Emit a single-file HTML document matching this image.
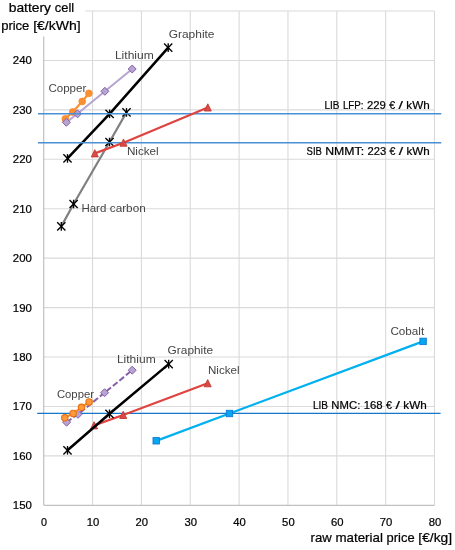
<!DOCTYPE html>
<html lang="en"><head><meta charset="utf-8"><title>Battery cell price vs raw material price</title>
<style>html,body{margin:0;padding:0;background:#fff;}svg{display:block;}text{font-family:"Liberation Sans",sans-serif;}</style></head><body>
<svg width="455" height="550" viewBox="0 0 455 550">
<rect x="0" y="0" width="455" height="550" fill="#ffffff"/>
<g stroke="#dadada" stroke-width="1.1" fill="none">
<line x1="92.55" y1="11.0" x2="92.55" y2="505.3"/>
<line x1="141.40" y1="11.0" x2="141.40" y2="505.3"/>
<line x1="190.25" y1="11.0" x2="190.25" y2="505.3"/>
<line x1="239.10" y1="11.0" x2="239.10" y2="505.3"/>
<line x1="287.95" y1="11.0" x2="287.95" y2="505.3"/>
<line x1="336.80" y1="11.0" x2="336.80" y2="505.3"/>
<line x1="385.65" y1="11.0" x2="385.65" y2="505.3"/>
<line x1="434.50" y1="11.0" x2="434.50" y2="505.3"/>
<line x1="43.7" y1="455.87" x2="434.5" y2="455.87"/>
<line x1="43.7" y1="406.44" x2="434.5" y2="406.44"/>
<line x1="43.7" y1="357.01" x2="434.5" y2="357.01"/>
<line x1="43.7" y1="307.58" x2="434.5" y2="307.58"/>
<line x1="43.7" y1="258.15" x2="434.5" y2="258.15"/>
<line x1="43.7" y1="208.72" x2="434.5" y2="208.72"/>
<line x1="43.7" y1="159.29" x2="434.5" y2="159.29"/>
<line x1="43.7" y1="109.86" x2="434.5" y2="109.86"/>
<line x1="43.7" y1="60.43" x2="434.5" y2="60.43"/>
<line x1="43.7" y1="11.00" x2="434.5" y2="11.00"/>
</g>
<g stroke="#c0c0c0" stroke-width="1.2" fill="none">
<line x1="43.7" y1="11.0" x2="43.7" y2="505.3"/>
<line x1="43.7" y1="505.3" x2="434.5" y2="505.3"/>
</g>
<rect x="0" y="0" width="85.4" height="36.5" fill="#ffffff"/>
<line x1="37.2" y1="413.4" x2="440.6" y2="413.4" stroke="#1676c7" stroke-width="1.15"/>
<polyline points="156.2,440.8 229.5,413.5 423.1,341.4" fill="none" stroke="#00b0f0" stroke-width="2.3" stroke-linejoin="round" stroke-linecap="butt"/>
<rect x="153.0" y="437.6" width="6.4" height="6.4" fill="#07a6ee" stroke="#0e7ad4" stroke-width="0.9"/>
<rect x="226.3" y="410.3" width="6.4" height="6.4" fill="#07a6ee" stroke="#0e7ad4" stroke-width="0.9"/>
<rect x="419.9" y="338.2" width="6.4" height="6.4" fill="#07a6ee" stroke="#0e7ad4" stroke-width="0.9"/>
<polyline points="94.1,425.4 123.2,415.0 207.7,383.3" fill="none" stroke="#e0433f" stroke-width="2.2" stroke-linejoin="round" stroke-linecap="butt"/>
<polygon points="94.1,421.7 97.6,428.9 90.6,428.9" fill="#dc4a48" stroke="#bf3a32" stroke-width="0.9" stroke-linejoin="round"/>
<polygon points="123.2,411.3 126.7,418.5 119.7,418.5" fill="#dc4a48" stroke="#bf3a32" stroke-width="0.9" stroke-linejoin="round"/>
<polygon points="207.7,379.6 211.2,386.8 204.2,386.8" fill="#dc4a48" stroke="#bf3a32" stroke-width="0.9" stroke-linejoin="round"/>
<polyline points="61.3,226.4 73.6,204.0 109.5,142.0 126.5,112.4" fill="none" stroke="#808080" stroke-width="2.2" stroke-linejoin="round" stroke-linecap="butt"/>
<g stroke="#000000" stroke-width="1.35" fill="none"><line x1="57.2" y1="222.3" x2="65.4" y2="230.5"/><line x1="57.2" y1="230.5" x2="65.4" y2="222.3"/><line x1="61.3" y1="222.1" x2="61.3" y2="230.7"/></g>
<g stroke="#000000" stroke-width="1.35" fill="none"><line x1="69.5" y1="199.9" x2="77.7" y2="208.1"/><line x1="69.5" y1="208.1" x2="77.7" y2="199.9"/><line x1="73.6" y1="199.7" x2="73.6" y2="208.3"/></g>
<g stroke="#000000" stroke-width="1.35" fill="none"><line x1="105.4" y1="137.9" x2="113.6" y2="146.1"/><line x1="105.4" y1="146.1" x2="113.6" y2="137.9"/><line x1="109.5" y1="137.7" x2="109.5" y2="146.3"/></g>
<g stroke="#000000" stroke-width="1.35" fill="none"><line x1="122.4" y1="108.3" x2="130.6" y2="116.5"/><line x1="122.4" y1="116.5" x2="130.6" y2="108.3"/><line x1="126.5" y1="108.1" x2="126.5" y2="116.7"/></g>
<polyline points="67.5,158.4 109.6,113.8 168.2,47.6" fill="none" stroke="#000000" stroke-width="2.5" stroke-linejoin="round" stroke-linecap="butt"/>
<g stroke="#000000" stroke-width="1.35" fill="none"><line x1="63.4" y1="154.3" x2="71.6" y2="162.5"/><line x1="63.4" y1="162.5" x2="71.6" y2="154.3"/><line x1="67.5" y1="154.1" x2="67.5" y2="162.7"/></g>
<g stroke="#000000" stroke-width="1.35" fill="none"><line x1="105.5" y1="109.7" x2="113.7" y2="117.9"/><line x1="105.5" y1="117.9" x2="113.7" y2="109.7"/><line x1="109.6" y1="109.5" x2="109.6" y2="118.1"/></g>
<g stroke="#000000" stroke-width="1.35" fill="none"><line x1="164.1" y1="43.5" x2="172.3" y2="51.7"/><line x1="164.1" y1="51.7" x2="172.3" y2="43.5"/><line x1="168.2" y1="43.3" x2="168.2" y2="51.9"/></g>
<polyline points="67.5,450.3 109.5,413.8 168.7,364.1" fill="none" stroke="#000000" stroke-width="2.5" stroke-linejoin="round" stroke-linecap="butt"/>
<g stroke="#000000" stroke-width="1.35" fill="none"><line x1="63.4" y1="446.2" x2="71.6" y2="454.4"/><line x1="63.4" y1="454.4" x2="71.6" y2="446.2"/><line x1="67.5" y1="446.0" x2="67.5" y2="454.6"/></g>
<g stroke="#000000" stroke-width="1.35" fill="none"><line x1="105.4" y1="409.7" x2="113.6" y2="417.9"/><line x1="105.4" y1="417.9" x2="113.6" y2="409.7"/><line x1="109.5" y1="409.5" x2="109.5" y2="418.1"/></g>
<g stroke="#000000" stroke-width="1.35" fill="none"><line x1="164.6" y1="360.0" x2="172.8" y2="368.2"/><line x1="164.6" y1="368.2" x2="172.8" y2="360.0"/><line x1="168.7" y1="359.8" x2="168.7" y2="368.4"/></g>
<polyline points="65.3,118.8 72.7,112.0 82.2,101.4 88.9,93.3" fill="none" stroke="#fb9032" stroke-width="2.2" stroke-linejoin="round" stroke-linecap="butt"/>
<circle cx="65.3" cy="118.8" r="3.4" fill="#fb9032" stroke="#f98a28" stroke-width="0.8"/>
<circle cx="72.7" cy="112.0" r="3.4" fill="#fb9032" stroke="#f98a28" stroke-width="0.8"/>
<circle cx="82.2" cy="101.4" r="3.4" fill="#fb9032" stroke="#f98a28" stroke-width="0.8"/>
<circle cx="88.9" cy="93.3" r="3.4" fill="#fb9032" stroke="#f98a28" stroke-width="0.8"/>
<polyline points="66.4,122.3 77.5,113.8 104.9,91.3 132.2,69.0" fill="none" stroke="#b7a4d1" stroke-width="2.0" stroke-linejoin="round" stroke-linecap="butt"/>
<polygon points="66.4,118.3 70.4,122.3 66.4,126.3 62.4,122.3" fill="#b7a4d1" stroke="#8560a8" stroke-width="1.0"/>
<polygon points="77.5,109.8 81.5,113.8 77.5,117.8 73.5,113.8" fill="#b7a4d1" stroke="#8560a8" stroke-width="1.0"/>
<polygon points="104.9,87.3 108.9,91.3 104.9,95.3 100.9,91.3" fill="#b7a4d1" stroke="#8560a8" stroke-width="1.0"/>
<polygon points="132.2,65.0 136.2,69.0 132.2,73.0 128.2,69.0" fill="#b7a4d1" stroke="#8560a8" stroke-width="1.0"/>
<line x1="38" y1="113.8" x2="441.3" y2="113.8" stroke="#4a90d4" stroke-width="1.6"/>
<line x1="38" y1="142.8" x2="441.3" y2="142.8" stroke="#4a90d4" stroke-width="1.6"/>
<polyline points="94.8,153.4 123.5,142.7 207.8,107.5" fill="none" stroke="#e0433f" stroke-width="2.2" stroke-linejoin="round" stroke-linecap="butt"/>
<polygon points="94.8,149.7 98.3,156.9 91.3,156.9" fill="#dc4a48" stroke="#bf3a32" stroke-width="0.9" stroke-linejoin="round"/>
<polygon points="123.5,139.0 127.0,146.2 120.0,146.2" fill="#dc4a48" stroke="#bf3a32" stroke-width="0.9" stroke-linejoin="round"/>
<polygon points="207.8,103.8 211.3,111.0 204.3,111.0" fill="#dc4a48" stroke="#bf3a32" stroke-width="0.9" stroke-linejoin="round"/>
<polyline points="66.6,422.2 78.0,414.3 104.6,392.7 132.2,370.2" fill="none" stroke="#8560a8" stroke-width="2.0" stroke-linejoin="round" stroke-linecap="butt" stroke-dasharray="6 2.4"/>
<polygon points="66.6,418.2 70.6,422.2 66.6,426.2 62.6,422.2" fill="#b7a4d1" stroke="#8560a8" stroke-width="1.0"/>
<polygon points="78.0,410.3 82.0,414.3 78.0,418.3 74.0,414.3" fill="#b7a4d1" stroke="#8560a8" stroke-width="1.0"/>
<polygon points="104.6,388.7 108.6,392.7 104.6,396.7 100.6,392.7" fill="#b7a4d1" stroke="#8560a8" stroke-width="1.0"/>
<polygon points="132.2,366.2 136.2,370.2 132.2,374.2 128.2,370.2" fill="#b7a4d1" stroke="#8560a8" stroke-width="1.0"/>
<polyline points="64.8,417.8 73.1,413.4 81.5,407.3 89.1,402.0" fill="none" stroke="#fb9032" stroke-width="2.2" stroke-linejoin="round" stroke-linecap="butt"/>
<circle cx="64.8" cy="417.8" r="3.2" fill="#ff9a3c" stroke="#e8700f" stroke-width="1.1"/>
<circle cx="73.1" cy="413.4" r="3.2" fill="#ff9a3c" stroke="#e8700f" stroke-width="1.1"/>
<circle cx="81.5" cy="407.3" r="3.2" fill="#ff9a3c" stroke="#e8700f" stroke-width="1.1"/>
<circle cx="89.1" cy="402.0" r="3.2" fill="#ff9a3c" stroke="#e8700f" stroke-width="1.1"/>
<text y="91.8" font-size="11.69" fill="#454545"><tspan x="48.41" textLength="37.91" lengthAdjust="spacingAndGlyphs">Copper</tspan></text>
<text y="59.0" font-size="11.58" fill="#454545"><tspan x="114.90" textLength="38.92" lengthAdjust="spacingAndGlyphs">Lithium</tspan></text>
<text y="38.4" font-size="11.67" fill="#454545"><tspan x="168.71" textLength="45.81" lengthAdjust="spacingAndGlyphs">Graphite</tspan></text>
<text y="154.5" font-size="11.75" fill="#454545"><tspan x="126.89" textLength="31.84" lengthAdjust="spacingAndGlyphs">Nickel</tspan></text>
<text y="211.8" font-size="11.60" fill="#454545"><tspan x="81.40" textLength="24.95" lengthAdjust="spacingAndGlyphs">Hard</tspan> <tspan x="109.78" textLength="35.94" lengthAdjust="spacingAndGlyphs">carbon</tspan></text>
<text y="397.6" font-size="11.44" fill="#454545"><tspan x="56.92" textLength="37.09" lengthAdjust="spacingAndGlyphs">Copper</tspan></text>
<text y="362.5" font-size="11.55" fill="#454545"><tspan x="116.90" textLength="38.81" lengthAdjust="spacingAndGlyphs">Lithium</tspan></text>
<text y="354.3" font-size="11.60" fill="#454545"><tspan x="167.61" textLength="45.50" lengthAdjust="spacingAndGlyphs">Graphite</tspan></text>
<text y="374.0" font-size="11.63" fill="#454545"><tspan x="208.00" textLength="31.52" lengthAdjust="spacingAndGlyphs">Nickel</tspan></text>
<text y="334.6" font-size="11.75" fill="#454545"><tspan x="390.41" textLength="33.81" lengthAdjust="spacingAndGlyphs">Cobalt</tspan></text>
<text y="108.5" font-size="11.47" fill="#000000" stroke="#000000" stroke-width="0.22"><tspan x="324.51" textLength="14.99" lengthAdjust="spacingAndGlyphs">LIB</tspan> <tspan x="342.89" textLength="20.70" lengthAdjust="spacingAndGlyphs">LFP:</tspan> <tspan x="366.98" textLength="18.87" lengthAdjust="spacingAndGlyphs">229</tspan> <tspan x="389.24" textLength="5.95" lengthAdjust="spacingAndGlyphs">€</tspan> <tspan x="398.59" textLength="4.41" lengthAdjust="spacingAndGlyphs">/</tspan> <tspan x="406.39" textLength="23.32" lengthAdjust="spacingAndGlyphs">kWh</tspan></text>
<text y="154.6" font-size="11.38" fill="#000000" stroke="#000000" stroke-width="0.22"><tspan x="306.55" textLength="15.37" lengthAdjust="spacingAndGlyphs">SIB</tspan> <tspan x="325.28" textLength="38.83" lengthAdjust="spacingAndGlyphs">NMMT:</tspan> <tspan x="367.47" textLength="18.72" lengthAdjust="spacingAndGlyphs">223</tspan> <tspan x="389.56" textLength="5.90" lengthAdjust="spacingAndGlyphs">€</tspan> <tspan x="398.83" textLength="4.38" lengthAdjust="spacingAndGlyphs">/</tspan> <tspan x="406.57" textLength="23.14" lengthAdjust="spacingAndGlyphs">kWh</tspan></text>
<text y="408.5" font-size="11.52" fill="#000000" stroke="#000000" stroke-width="0.22"><tspan x="312.90" textLength="15.06" lengthAdjust="spacingAndGlyphs">LIB</tspan> <tspan x="331.37" textLength="28.94" lengthAdjust="spacingAndGlyphs">NMC:</tspan> <tspan x="363.72" textLength="18.95" lengthAdjust="spacingAndGlyphs">168</tspan> <tspan x="386.07" textLength="5.98" lengthAdjust="spacingAndGlyphs">€</tspan> <tspan x="395.45" textLength="4.43" lengthAdjust="spacingAndGlyphs">/</tspan> <tspan x="403.29" textLength="23.42" lengthAdjust="spacingAndGlyphs">kWh</tspan></text>
<text y="12.1" font-size="12.98" fill="#000000" stroke="#000000" stroke-width="0.22"><tspan x="8.73" textLength="42.29" lengthAdjust="spacingAndGlyphs">battery</tspan> <tspan x="54.86" textLength="19.31" lengthAdjust="spacingAndGlyphs">cell</tspan></text>
<text y="30.3" font-size="12.81" fill="#000000" stroke="#000000" stroke-width="0.22"><tspan x="1.15" textLength="28.24" lengthAdjust="spacingAndGlyphs">price</tspan> <tspan x="33.18" textLength="47.49" lengthAdjust="spacingAndGlyphs">[€/kWh]</tspan></text>
<text y="542.2" font-size="12.69" fill="#000000" stroke="#000000" stroke-width="0.22"><tspan x="310.55" textLength="21.19" lengthAdjust="spacingAndGlyphs">raw</tspan> <tspan x="335.50" textLength="47.35" lengthAdjust="spacingAndGlyphs">material</tspan> <tspan x="386.60" textLength="27.98" lengthAdjust="spacingAndGlyphs">price</tspan> <tspan x="418.33" textLength="33.73" lengthAdjust="spacingAndGlyphs">[€/kg]</tspan></text>
<text y="509.2" font-size="11.60" fill="#000000" stroke="#000000" stroke-width="0.22"><tspan x="12.83" textLength="19.08" lengthAdjust="spacingAndGlyphs">150</tspan></text>
<text y="459.8" font-size="11.60" fill="#000000" stroke="#000000" stroke-width="0.22"><tspan x="12.83" textLength="19.08" lengthAdjust="spacingAndGlyphs">160</tspan></text>
<text y="410.3" font-size="11.60" fill="#000000" stroke="#000000" stroke-width="0.22"><tspan x="12.83" textLength="19.08" lengthAdjust="spacingAndGlyphs">170</tspan></text>
<text y="360.9" font-size="11.60" fill="#000000" stroke="#000000" stroke-width="0.22"><tspan x="12.83" textLength="19.08" lengthAdjust="spacingAndGlyphs">180</tspan></text>
<text y="311.5" font-size="11.60" fill="#000000" stroke="#000000" stroke-width="0.22"><tspan x="12.83" textLength="19.08" lengthAdjust="spacingAndGlyphs">190</tspan></text>
<text y="262.0" font-size="11.60" fill="#000000" stroke="#000000" stroke-width="0.22"><tspan x="12.83" textLength="19.08" lengthAdjust="spacingAndGlyphs">200</tspan></text>
<text y="212.6" font-size="11.60" fill="#000000" stroke="#000000" stroke-width="0.22"><tspan x="12.83" textLength="19.08" lengthAdjust="spacingAndGlyphs">210</tspan></text>
<text y="163.2" font-size="11.60" fill="#000000" stroke="#000000" stroke-width="0.22"><tspan x="12.83" textLength="19.08" lengthAdjust="spacingAndGlyphs">220</tspan></text>
<text y="113.8" font-size="11.60" fill="#000000" stroke="#000000" stroke-width="0.22"><tspan x="12.83" textLength="19.08" lengthAdjust="spacingAndGlyphs">230</tspan></text>
<text y="64.3" font-size="11.60" fill="#000000" stroke="#000000" stroke-width="0.22"><tspan x="12.83" textLength="19.08" lengthAdjust="spacingAndGlyphs">240</tspan></text>
<text y="525.9" font-size="11.61" fill="#000000" stroke="#000000" stroke-width="0.22"><tspan x="40.88" textLength="6.02" lengthAdjust="spacingAndGlyphs">0</tspan></text>
<text y="525.9" font-size="11.61" fill="#000000" stroke="#000000" stroke-width="0.22"><tspan x="86.71" textLength="12.56" lengthAdjust="spacingAndGlyphs">10</tspan></text>
<text y="525.9" font-size="11.61" fill="#000000" stroke="#000000" stroke-width="0.22"><tspan x="135.56" textLength="12.56" lengthAdjust="spacingAndGlyphs">20</tspan></text>
<text y="525.9" font-size="11.61" fill="#000000" stroke="#000000" stroke-width="0.22"><tspan x="184.41" textLength="12.56" lengthAdjust="spacingAndGlyphs">30</tspan></text>
<text y="525.9" font-size="11.61" fill="#000000" stroke="#000000" stroke-width="0.22"><tspan x="233.26" textLength="12.56" lengthAdjust="spacingAndGlyphs">40</tspan></text>
<text y="525.9" font-size="11.61" fill="#000000" stroke="#000000" stroke-width="0.22"><tspan x="282.11" textLength="12.56" lengthAdjust="spacingAndGlyphs">50</tspan></text>
<text y="525.9" font-size="11.61" fill="#000000" stroke="#000000" stroke-width="0.22"><tspan x="330.96" textLength="12.56" lengthAdjust="spacingAndGlyphs">60</tspan></text>
<text y="525.9" font-size="11.61" fill="#000000" stroke="#000000" stroke-width="0.22"><tspan x="379.81" textLength="12.56" lengthAdjust="spacingAndGlyphs">70</tspan></text>
<text y="525.9" font-size="11.61" fill="#000000" stroke="#000000" stroke-width="0.22"><tspan x="428.66" textLength="12.56" lengthAdjust="spacingAndGlyphs">80</tspan></text>
</svg></body></html>
